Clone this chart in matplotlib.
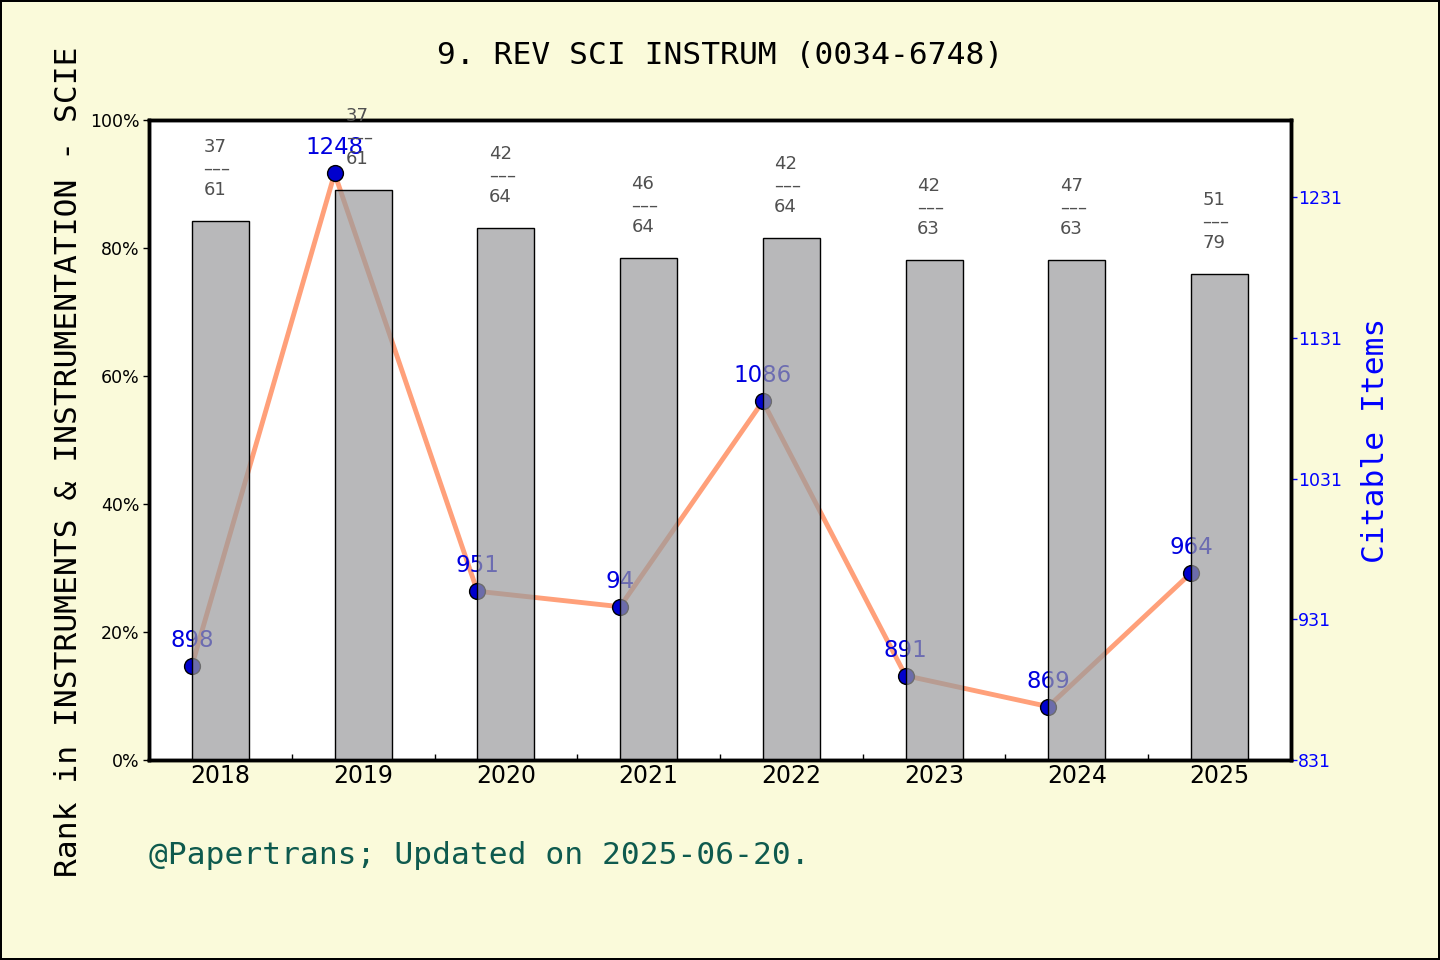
import matplotlib
matplotlib.use("Agg")
import matplotlib.pyplot as plt
from matplotlib.colors import to_rgba
import numpy as np

years = ["2018", "2019", "2020", "2021", "2022", "2023", "2024", "2025"]
rank_pct = [84.2, 89.1, 83.1, 78.4, 81.6, 78.1, 78.1, 75.9]
rank_num = [37, 37, 42, 46, 42, 42, 47, 51]
rank_total = [61, 61, 64, 64, 64, 63, 63, 79]
citable = [898, 1248, 951, 940, 1086, 891, 869, 964]
citable_labels = ["898", "1248", "951", "94", "1086", "891", "869", "964"]
right_ticks = [831, 931, 1031, 1131, 1231]

BG = "#FAFADA"
MONO = "DejaVu Sans Mono"

fig = plt.figure(figsize=(14.4, 9.6), dpi=100, facecolor=BG)
fig.patch.set_edgecolor("black")
fig.patch.set_linewidth(1.5)

ax = fig.add_axes([0.1035, 0.2083, 0.793, 0.6667])
ax2 = ax.twinx()
ax.set_zorder(ax2.get_zorder() + 1)
ax.patch.set_visible(False)
ax2.patch.set_visible(True)
ax2.patch.set_facecolor("white")

x = np.arange(len(years))

# line on right axis (underneath bars)
ax2.plot(x - 0.2, citable, color="#FFA07A", lw=3.5, zorder=2)
ax2.scatter(x - 0.2, citable, s=130, color="#0000CD", edgecolor="black",
            linewidth=1, zorder=3)
for xi, v, lab in zip(x, citable, citable_labels):
    ax2.text(xi - 0.2, v + 10, lab, color="#0000E0", fontsize=16.5,
             ha="center", va="bottom", zorder=4)
ax2.set_ylim(831, 1286)
ax2.set_yticks(right_ticks)
ax2.tick_params(axis="y", colors="#0000FF", labelsize=12.5, length=4,
                width=1, direction="out", pad=1)
ax2.set_ylabel("Citable Items", color="#0000FF", fontsize=22.5,
               family=MONO, labelpad=14)

# bars on left axis (above line)
ax.bar(x, rank_pct, width=0.4, color=to_rgba("#9B9B9D", 0.7),
       edgecolor="black", linewidth=1, zorder=2)
for xi, h, n, t in zip(x, rank_pct, rank_num, rank_total):
    ax.text(xi - 0.12, h + 8.2, f"{n}\n\u2013\u2013\u2013\n{t}", color="#505050",
            fontsize=13, ha="left", va="center", linespacing=1.25, zorder=5)

ax.set_xlim(-0.5, len(years) - 0.5)
ax.set_ylim(0, 100)
ax.set_yticks([0, 20, 40, 60, 80, 100])
ax.set_yticklabels([f"{v}%" for v in [0, 20, 40, 60, 80, 100]])
ax.tick_params(axis="y", labelsize=12.5, length=4, width=1, pad=3)
ax.set_xticks(x)
ax.set_xticklabels(years)
ax.tick_params(axis="x", labelsize=17, length=0, pad=3)
ax.set_xticks(x[:-1] + 0.5, minor=True)
ax.tick_params(axis="x", which="minor", length=4, direction="in", width=1)

for a in (ax, ax2):
    for s in a.spines.values():
        s.set_linewidth(2.5)
        s.set_color("black")

ax.set_ylabel("Rank in INSTRUMENTS & INSTRUMENTATION - SCIE", fontsize=22.5,
              family=MONO)
ax.yaxis.set_label_coords(-0.0575, 0.466)

fig.text(0.5, 0.942, "9. REV SCI INSTRUM (0034-6748)", fontsize=22.5,
         family=MONO, ha="center", va="center", color="black")
fig.text(0.1035, 0.109, "@Papertrans; Updated on 2025-06-20.", fontsize=22.5,
         family=MONO, ha="left", va="center", color="#0E5A4E")

fig.savefig("out.png", dpi=100, facecolor=BG, edgecolor="black")
